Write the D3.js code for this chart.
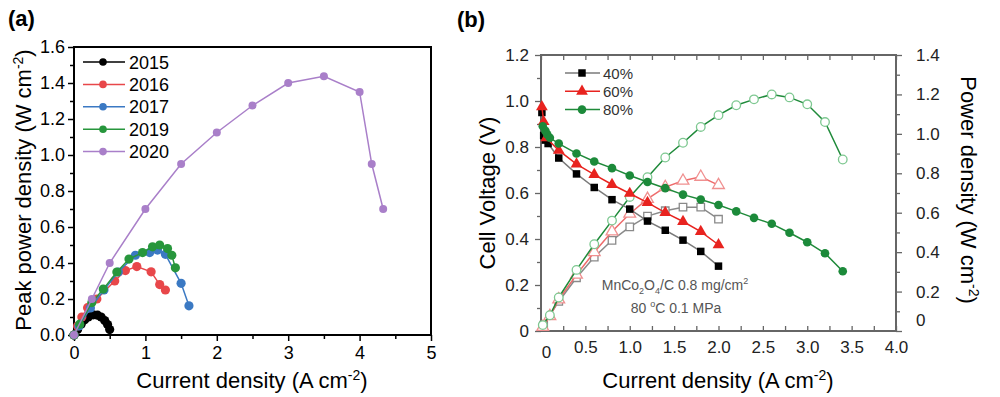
<!DOCTYPE html>
<html>
<head>
<meta charset="utf-8">
<script src="https://cdn.jsdelivr.net/npm/d3@7"></script>
<style>
  body { margin: 0; background: #fff; }
  text { font-family: "Liberation Sans", Arial, sans-serif; }
</style>
</head>
<body>
<svg id="chart" width="1000" height="397"></svg>
<script>
// ---- panel (a) data : peak power density vs current density ----
const yearsA = ["2015", "2016", "2017", "2019", "2020"];
const colorsA = ["#000000", "#e8474a", "#3b79c3", "#27963c", "#a97fc9"];
const s2015 = [[0,0],[0.05,0.03],[0.1,0.06],[0.15,0.085],[0.2,0.1],[0.27,0.112],[0.33,0.11],[0.38,0.1],[0.43,0.08],[0.47,0.058],[0.5,0.03]];
const s2016 = [[0,0],[0.05,0.05],[0.11,0.1],[0.19,0.152],[0.32,0.2],[0.57,0.3],[0.72,0.358],[0.88,0.38],[1.08,0.351],[1.2,0.28],[1.28,0.25]];
const s2017 = [[0,0],[0.07,0.05],[0.23,0.15],[0.42,0.25],[0.62,0.35],[0.86,0.443],[1.06,0.458],[1.17,0.472],[1.28,0.448],[1.5,0.287],[1.61,0.162]];
const s2019 = [[0,0],[0.08,0.06],[0.25,0.18],[0.41,0.255],[0.6,0.35],[0.77,0.422],[0.96,0.458],[1.1,0.49],[1.2,0.5],[1.31,0.48],[1.37,0.443],[1.42,0.373]];
const s2020 = [[0,0],[0.25,0.2],[0.5,0.4],[1.0,0.7],[1.5,0.95],[2.0,1.125],[2.5,1.275],[3.0,1.4],[3.5,1.437],[4.0,1.35],[4.17,0.95],[4.33,0.7]];
const seriesA = [s2015, s2016, s2017, s2019, s2020];
const xTicksA = [0, 1, 2, 3, 4, 5];
const yTicksA = [0, 0.2, 0.4, 0.6, 0.8, 1.0, 1.2, 1.4, 1.6];

// ---- panel (b) data : polarization and power curves ----
const rhLabels = ["40%", "60%", "80%"];
const v40 = [[0.01,0.95],[0.03,0.85],[0.05,0.83],[0.08,0.815],[0.2,0.752],[0.4,0.683],[0.6,0.624],[0.8,0.571],[1.0,0.53],[1.2,0.478],[1.4,0.438],[1.6,0.395],[1.8,0.346],[2.0,0.282]];
const v60 = [[0.01,0.975],[0.03,0.91],[0.06,0.84],[0.2,0.785],[0.4,0.726],[0.6,0.68],[0.8,0.637],[1.0,0.598],[1.2,0.558],[1.4,0.515],[1.6,0.476],[1.8,0.432],[2.0,0.375]];
const v80 = [[0.02,0.89],[0.05,0.87],[0.07,0.855],[0.1,0.84],[0.2,0.815],[0.4,0.772],[0.6,0.737],[0.8,0.708],[1.0,0.676],[1.2,0.648],[1.4,0.621],[1.6,0.593],[1.8,0.572],[2.0,0.548],[2.2,0.52],[2.4,0.492],[2.6,0.466],[2.8,0.427],[3.0,0.386],[3.2,0.338],[3.4,0.26]];
const p40 = [[0.03,0.03],[0.2,0.15],[0.4,0.27],[0.6,0.375],[0.8,0.46],[1.0,0.528],[1.2,0.583],[1.4,0.61],[1.6,0.628],[1.8,0.628],[2.0,0.567]];
const p60 = [[0.02,0.02],[0.1,0.075],[0.2,0.16],[0.4,0.285],[0.6,0.4],[0.8,0.505],[1.0,0.595],[1.2,0.67],[1.4,0.73],[1.6,0.762],[1.8,0.782],[2.0,0.74]];
const p80 = [[0.02,0.03],[0.1,0.08],[0.2,0.17],[0.4,0.31],[0.6,0.44],[0.8,0.56],[1.0,0.68],[1.2,0.78],[1.4,0.88],[1.6,0.955],[1.8,1.035],[2.0,1.095],[2.2,1.145],[2.4,1.175],[2.6,1.2],[2.8,1.185],[3.0,1.15],[3.2,1.06],[3.4,0.87]];
const xTicksB = [0, 0.5, 1.0, 1.5, 2.0, 2.5, 3.0, 3.5, 4.0];
const yTicksB = [0, 0.2, 0.4, 0.6, 0.8, 1.0, 1.2];
const y2TicksB = [0, 0.2, 0.4, 0.6, 0.8, 1.0, 1.2, 1.4];

const svg = d3.select("#chart");

// ================= panel (a) =================
const ax = d3.scaleLinear().domain([0, 5]).range([74, 431]);
const ay = d3.scaleLinear().domain([0, 1.6]).range([335, 47]);
const gA = svg.append("g");

// minor ticks
gA.append("g").attr("transform", "translate(0,335)")
  .call(d3.axisBottom(ax).tickValues(d3.range(0.5, 5, 1)).tickSize(4).tickFormat(""))
  .call(g => g.select(".domain").remove());
gA.append("g").attr("transform", "translate(74,0)")
  .call(d3.axisLeft(ay).tickValues(d3.range(0.1, 1.6, 0.2)).tickSize(4).tickFormat(""))
  .call(g => g.select(".domain").remove());
// major ticks
const axA = gA.append("g").attr("transform", "translate(0,335)")
  .call(d3.axisBottom(ax).tickValues(xTicksA).tickSize(6).tickPadding(5).tickFormat(d3.format("d")));
const ayA = gA.append("g").attr("transform", "translate(74,0)")
  .call(d3.axisLeft(ay).tickValues(yTicksA).tickSize(6).tickPadding(3).tickFormat(d3.format(".1f")));
[axA, ayA].forEach(g => {
  g.select(".domain").remove();
  g.selectAll("text").attr("font-size", 18).attr("fill", "#000");
});
gA.selectAll(".tick line").attr("stroke", "#000").attr("stroke-width", 1.5);
gA.append("rect").attr("x", 74).attr("y", 47).attr("width", 357).attr("height", 288)
  .attr("fill", "none").attr("stroke", "#000").attr("stroke-width", 2);

const lineA = d3.line().x(d => ax(d[0])).y(d => ay(d[1]));
seriesA.forEach((s, i) => {
  const r = i === 4 ? 4 : 4.6;
  gA.append("path").datum(s).attr("d", lineA).attr("fill", "none")
    .attr("stroke", colorsA[i]).attr("stroke-width", 1.5);
  gA.selectAll(null).data(s).enter().append("circle")
    .attr("cx", d => ax(d[0])).attr("cy", d => ay(d[1])).attr("r", r)
    .attr("fill", colorsA[i]);
});

// legend (a)
yearsA.forEach((yr, i) => {
  const ly = 62 + i * 22.4;
  gA.append("line").attr("x1", 83).attr("x2", 125).attr("y1", ly).attr("y2", ly)
    .attr("stroke", colorsA[i]).attr("stroke-width", 1.5);
  gA.append("circle").attr("cx", 103).attr("cy", ly).attr("r", 3.8).attr("fill", colorsA[i]);
  gA.append("text").attr("x", 129).attr("y", ly + 6.5).attr("font-size", 18).text(yr);
});

gA.append("text").attr("x", 8).attr("y", 26).attr("font-size", 22).attr("font-weight", "bold").text("(a)");
const xtA = gA.append("text").attr("x", 252).attr("y", 388).attr("text-anchor", "middle").attr("font-size", 22);
xtA.append("tspan").text("Current density (A cm");
xtA.append("tspan").attr("dy", -8).attr("font-size", 14).text("-2");
xtA.append("tspan").attr("dy", 8).text(")");
const ytA = gA.append("text").attr("transform", "translate(31,190) rotate(-90)")
  .attr("text-anchor", "middle").attr("font-size", 22);
ytA.append("tspan").text("Peak power density (W cm");
ytA.append("tspan").attr("dy", -8).attr("font-size", 14).text("-2");
ytA.append("tspan").attr("dy", 8).text(")");

// ================= panel (b) =================
const bx = d3.scaleLinear().domain([0, 4]).range([541, 896]);
const by = d3.scaleLinear().domain([0, 1.2]).range([331, 55]);
const by2 = d3.scaleLinear().domain([0, 1.4]).range([331, 55]);
const gB = svg.append("g");
const axisCol = "#666";

const qTicks = d3.range(0, 4.01, 0.25);
gB.append("g").attr("transform", "translate(0,331)")
  .call(d3.axisTop(bx).tickValues(qTicks).tickSize(5).tickFormat(""));
gB.append("g").attr("transform", "translate(0,55)")
  .call(d3.axisBottom(bx).tickValues(qTicks).tickSize(5).tickFormat(""));
gB.append("g").attr("transform", "translate(541,0)")
  .call(d3.axisLeft(by).tickValues(d3.range(0.1, 1.2, 0.2)).tickSize(4).tickFormat(""));
gB.append("g").attr("transform", "translate(896,0)")
  .call(d3.axisRight(by2).tickValues(d3.range(0.1, 1.4, 0.2)).tickSize(4).tickFormat(""));

const bxA = gB.append("g").attr("transform", "translate(0,331)")
  .call(d3.axisBottom(bx).tickValues(xTicksB).tickSize(0).tickPadding(10)
    .tickFormat(d => d === 0 ? "0" : d3.format(".1f")(d)));
const byA = gB.append("g").attr("transform", "translate(541,0)")
  .call(d3.axisLeft(by).tickValues(yTicksB).tickSize(6).tickPadding(6)
    .tickFormat(d => d === 0 ? "0" : d3.format(".1f")(d)));
const by2A = gB.append("g").attr("transform", "translate(896,0)")
  .call(d3.axisRight(by2).tickValues(y2TicksB).tickSize(6).tickPadding(14)
    .tickFormat(d => d === 0 ? "0" : d3.format(".1f")(d)));
[bxA, byA, by2A].forEach(g => {
  g.selectAll("text").attr("font-size", 17).attr("fill", "#222");
});
bxA.selectAll(".tick text").filter(d => d === 0).attr("dx", 5).attr("dy", "1.0em");
by2A.selectAll(".tick text").filter(d => d === 0).attr("dy", "-0.3em");
gB.selectAll(".domain").remove();
gB.selectAll(".tick line").attr("stroke", axisCol).attr("stroke-width", 1.3);
gB.append("rect").attr("x", 541).attr("y", 55).attr("width", 355).attr("height", 276)
  .attr("fill", "none").attr("stroke", axisCol).attr("stroke-width", 2);

const lineV = d3.line().x(d => bx(d[0])).y(d => by(d[1]));
const lineP = d3.line().x(d => bx(d[0])).y(d => by2(d[1]));
const sq = d3.symbol().type(d3.symbolSquare).size(56)();
const tri = d3.symbol().type(d3.symbolTriangle).size(60)();

function drawSeries(data, line, yScale, lineCol, shape, fill, stroke) {
  gB.append("path").datum(data).attr("d", line).attr("fill", "none")
    .attr("stroke", lineCol).attr("stroke-width", 1.5);
  const pts = gB.selectAll(null).data(data).enter();
  if (shape === "circle") {
    pts.append("circle").attr("cx", d => bx(d[0])).attr("cy", d => yScale(d[1])).attr("r", 4.3)
      .attr("fill", fill).attr("stroke", stroke).attr("stroke-width", 1.3);
  } else {
    pts.append("path").attr("d", shape === "square" ? sq : tri)
      .attr("transform", d => `translate(${bx(d[0])},${yScale(d[1])})`)
      .attr("fill", fill).attr("stroke", stroke).attr("stroke-width", 1.3);
  }
}

// power curves (open markers)
drawSeries(p40, lineP, by2, "#8a8a8a", "square", "#fff", "#8a8a8a");
drawSeries(p60, lineP, by2, "#ee6b6b", "triangle", "#fff", "#f09090");
drawSeries(p80, lineP, by2, "#1f8a3a", "circle", "#fff", "#7ec891");
// voltage curves (filled markers)
drawSeries(v40, lineV, by, "#7a7a7a", "square", "#000", "none");
drawSeries(v60, lineV, by, "#e8231f", "triangle", "#e8231f", "none");
drawSeries(v80, lineV, by, "#1f8a3a", "circle", "#1c8a3a", "none");

// legend (b)
const legCols = [["#7a7a7a", "#000"], ["#e8231f", "#e8231f"], ["#1f8a3a", "#1c8a3a"]];
const legShapes = ["square", "triangle", "circle"];
rhLabels.forEach((lab, i) => {
  const ly = 73 + i * 18.3;
  gB.append("line").attr("x1", 565).attr("x2", 600).attr("y1", ly).attr("y2", ly)
    .attr("stroke", legCols[i][0]).attr("stroke-width", 1.5);
  if (legShapes[i] === "circle") {
    gB.append("circle").attr("cx", 582).attr("cy", ly).attr("r", 4.3).attr("fill", legCols[i][1]);
  } else {
    gB.append("path").attr("d", legShapes[i] === "square" ? sq : tri)
      .attr("transform", `translate(582,${ly})`).attr("fill", legCols[i][1]);
  }
  gB.append("text").attr("x", 603).attr("y", ly + 5.5).attr("font-size", 15).attr("fill", "#333").text(lab);
});

// annotation
const an1 = gB.append("text").attr("x", 675).attr("y", 290).attr("text-anchor", "middle")
  .attr("font-size", 14).attr("fill", "#555");
an1.append("tspan").text("MnCo");
an1.append("tspan").attr("dy", 4).attr("font-size", 9).text("2");
an1.append("tspan").attr("dy", -4).text("O");
an1.append("tspan").attr("dy", 4).attr("font-size", 9).text("4");
an1.append("tspan").attr("dy", -4).text("/C 0.8 mg/cm");
an1.append("tspan").attr("dy", -6).attr("font-size", 9).text("2");
const an2 = gB.append("text").attr("x", 676).attr("y", 313).attr("text-anchor", "middle")
  .attr("font-size", 14).attr("fill", "#555");
an2.append("tspan").text("80 ");
an2.append("tspan").attr("dy", -6).attr("font-size", 9).text("o");
an2.append("tspan").attr("dy", 6).text("C 0.1 MPa");

gB.append("text").attr("x", 457).attr("y", 27).attr("font-size", 22).attr("font-weight", "bold").text("(b)");
const xtB = gB.append("text").attr("x", 718).attr("y", 388).attr("text-anchor", "middle").attr("font-size", 22);
xtB.append("tspan").text("Current density (A cm");
xtB.append("tspan").attr("dy", -8).attr("font-size", 14).text("-2");
xtB.append("tspan").attr("dy", 8).text(")");
gB.append("text").attr("transform", "translate(495,193) rotate(-90)")
  .attr("text-anchor", "middle").attr("font-size", 22).text("Cell Voltage (V)");
const ytB = gB.append("text").attr("transform", "translate(961,190) rotate(90)")
  .attr("text-anchor", "middle").attr("font-size", 22);
ytB.append("tspan").text("Power density (W cm");
ytB.append("tspan").attr("dy", -8).attr("font-size", 14).text("-2");
ytB.append("tspan").attr("dy", 8).text(")");
</script>
</body>
</html>
